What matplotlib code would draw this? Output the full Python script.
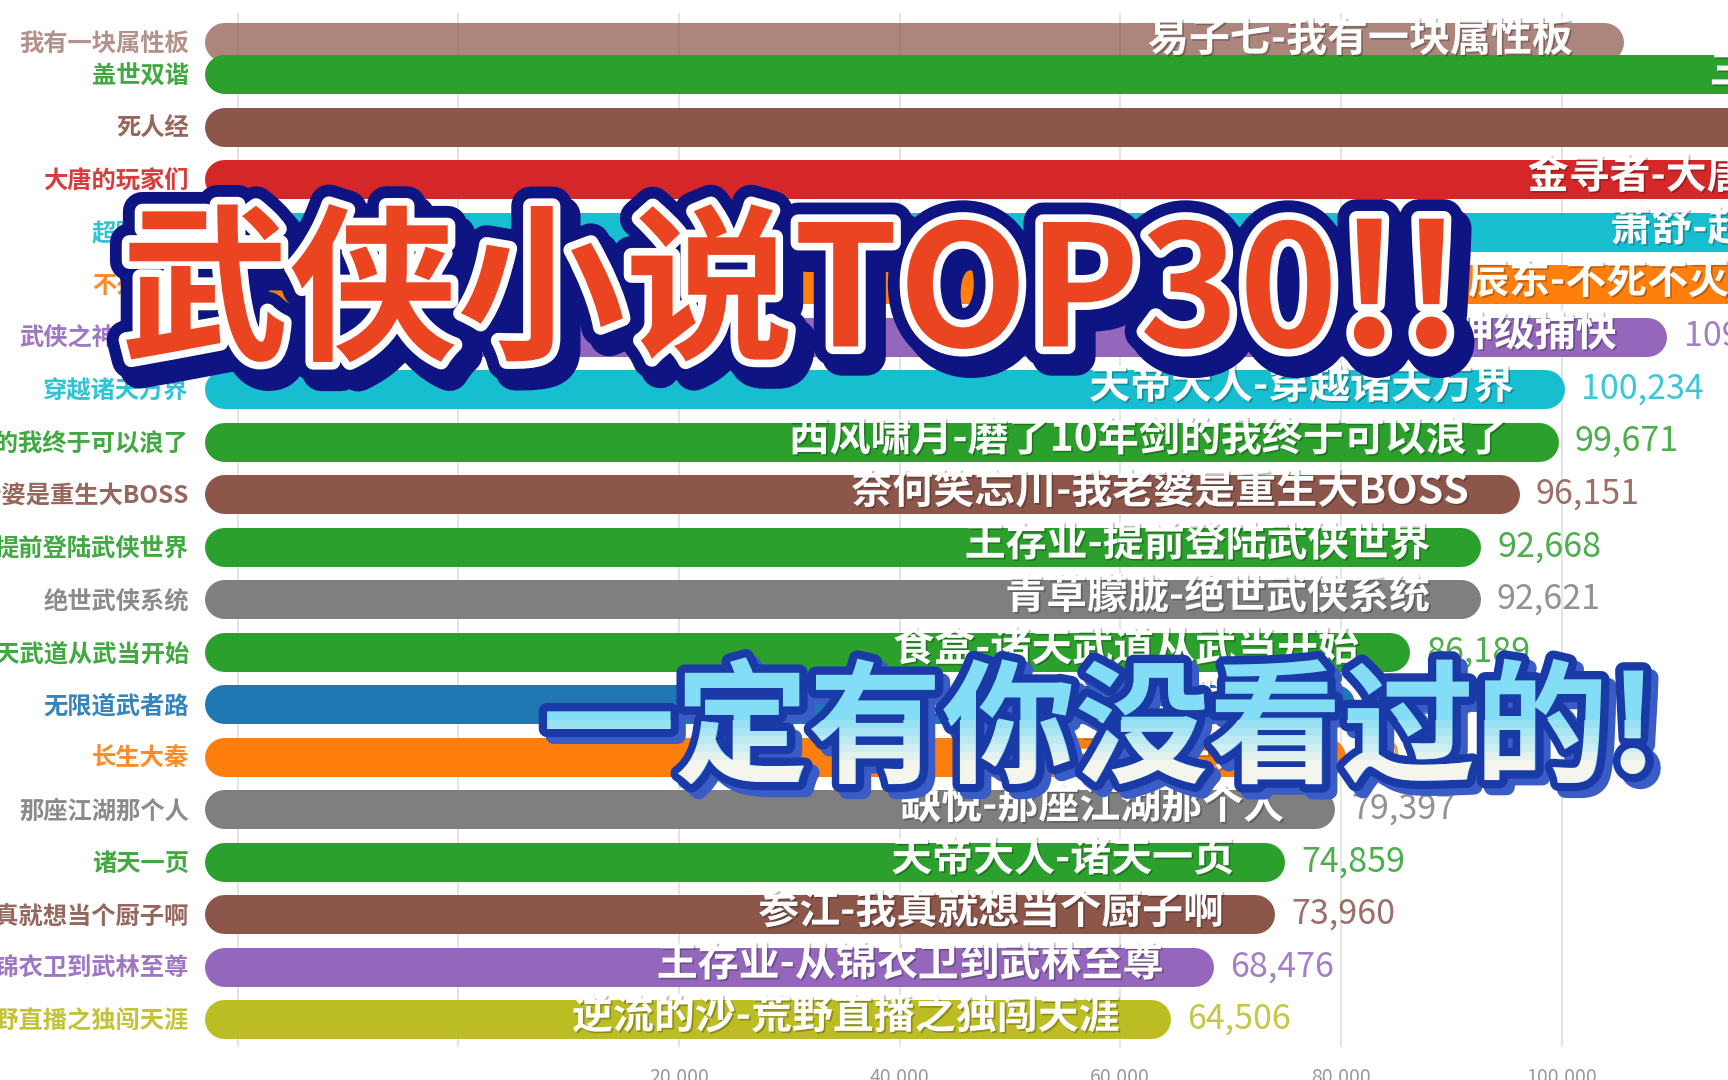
import matplotlib
matplotlib.use("Agg")
import matplotlib.pyplot as plt
import matplotlib.patheffects as pe
from matplotlib.transforms import Bbox

plt.rcParams['font.family'] = ['Noto Sans CJK SC', 'DejaVu Sans']

# one frame of the bar chart race, top to bottom
books = ["我有一块属性板", "盖世双谐", "死人经", "大唐的玩家们", "超脑太监", "不死不灭",
         "武侠之神级捕快", "穿越诸天万界", "磨了10年剑的我终于可以浪了", "我老婆是重生大BOSS",
         "提前登陆武侠世界", "绝世武侠系统", "诸天武道从武当开始", "无限道武者路", "长生大秦",
         "那座江湖那个人", "诸天一页", "我真就想当个厨子啊", "从锦衣卫到武林至尊", "荒野直播之独闯天涯"]
authors = ["易子七", "三天两觉", "冰临神下", "金寻者", "萧舒", "辰东",
           "墨染", "天帝大人", "西风啸月", "奈何笑忘川",
           "王存业", "青草朦胧", "食盒", "饥饿2006", "谷子",
           "缺悦", "天帝大人", "参江", "王存业", "逆流的沙"]
values = [105560, 149000, 147000, 136250, 132600, 119700,
          109532, 100234, 99671, 96151,
          92668, 92621, 86189, 81245, 80432,
          79397, 74859, 73960, 68476, 64506]
# rank position (first bar is moving between slots)
ranks = [0.39, 1, 2, 3, 4, 5, 6, 7, 8, 9, 10, 11, 12, 13, 14, 15, 16, 17, 18, 19]
colors = ["#8c564b", "#2ca02c", "#8c564b", "#d62728", "#17becf", "#ff7f0e",
          "#9467bd", "#17becf", "#2ca02c", "#8c564b",
          "#2ca02c", "#7f7f7f", "#2ca02c", "#1f77b4", "#ff7f0e",
          "#7f7f7f", "#2ca02c", "#8c564b", "#9467bd", "#bcbd22"]
alphas = [0.72] + [1.0] * 19
show_value = [False] + [True] * 19

grid_x = [-20000, 0, 20000, 40000, 60000, 80000, 100000]
grid_labels = ["", "", "20,000", "40,000", "60,000", "80,000", "100,000"]

W, H, DPI = 1728, 1080, 100
fig = plt.figure(figsize=(W / DPI, H / DPI), dpi=DPI)
fig.patch.set_facecolor("white")
ax = fig.add_axes([200 / W, 33 / H, 1 - 200 / W, 1034 / H])
ax.set_xlim(-23400, 115070)
ax.set_ylim(19.53, -0.162)
for s in ax.spines.values():
    s.set_visible(False)
ax.set_xticks(grid_x, grid_labels)
ax.tick_params(axis="x", length=0, pad=14, labelsize=14, labelcolor="#9a9a9a")
ax.tick_params(axis="y", length=0, pad=8)
ax.grid(axis="x", color="#e2e2e2", lw=1.3, zorder=0)
ax.set_axisbelow(True)

# bars as thick round-capped lines
bar_px = 39
px_per_unit = ax.transData.transform((1, 0))[0] - ax.transData.transform((0, 0))[0]
cap = (bar_px / 2) / px_per_unit
left = -23000
lw = bar_px * 72 / DPI

for i in range(len(books)):
    r = ranks[i]
    ax.plot([left + cap, values[i] - cap], [r, r], color=colors[i], alpha=alphas[i],
            lw=lw, solid_capstyle="round", zorder=2 + i * 0.01)
    ax.annotate(authors[i] + "-" + books[i], xy=(values[i], r), xytext=(-36, 2),
                textcoords="offset points", ha="right", va="center", color="white",
                fontsize=29.5, fontweight="bold", zorder=3 + i * 0.01, annotation_clip=False,
                path_effects=[pe.withSimplePatchShadow(offset=(1.2, -1.2), shadow_rgbFace="black", alpha=0.25)])
    if show_value[i]:
        ax.annotate(f"{values[i]:,}", xy=(values[i], r), xytext=(12, 0),
                    textcoords="offset points", ha="left", va="center", color=colors[i],
                    alpha=0.85, fontsize=24.5, zorder=3, annotation_clip=False)

ax.set_yticks(ranks, books)
for lab, c, a in zip(ax.get_yticklabels(), colors, alphas):
    lab.set_color(c)
    lab.set_alpha(0.9 * a)
    lab.set_fontsize(17.5)
    lab.set_fontweight("bold")

# overlay captions
fig.text(121 / W, 1 - 297 / H, "武侠小说TOP30!!", fontsize=121, fontweight="bold",
         color="#ea4420", ha="left", va="center", zorder=10,
         path_effects=[pe.Stroke(offset=(6, -7), linewidth=28, foreground="#0e1482"),
                       pe.Stroke(linewidth=28, foreground="#0e1482"),
                       pe.Stroke(linewidth=11, foreground="white"),
                       pe.Normal()])

sub_kw = dict(fontsize=96, fontweight="bold", ha="left", va="center", zorder=10)
sub_x, sub_y = 542 / W, 1 - 733 / H
fig.text(sub_x, sub_y, "一定有你没看过的!", color="#84ddf6",
         path_effects=[pe.Stroke(offset=(5, -5), linewidth=12, foreground="#3a5cc6"),
                       pe.Stroke(linewidth=12, foreground="#1a3aa8"),
                       pe.Normal()], **sub_kw)
# cyan to white fill towards the bottom of the caption (clipped copies)
top_c, bot_c = (0x84, 0xdd, 0xf6), (0xf4, 0xf6, 0xee)
y_hi, y_lo, steps = 360, 320, 5
for k in range(steps + 1):
    f = (k + 1) / (steps + 1)
    c = tuple((top_c[j] + (bot_c[j] - top_c[j]) * f) / 255 for j in range(3))
    y1 = y_hi - (y_hi - y_lo) * k / steps
    y0 = 0 if k == steps else y_hi - (y_hi - y_lo) * (k + 1) / steps
    t = fig.text(sub_x, sub_y, "一定有你没看过的!", color=c, **sub_kw)
    t.set_clip_box(Bbox([[0, y0], [W, y1]]))
    t.set_clip_on(True)

fig.savefig("out.png", dpi=DPI)
